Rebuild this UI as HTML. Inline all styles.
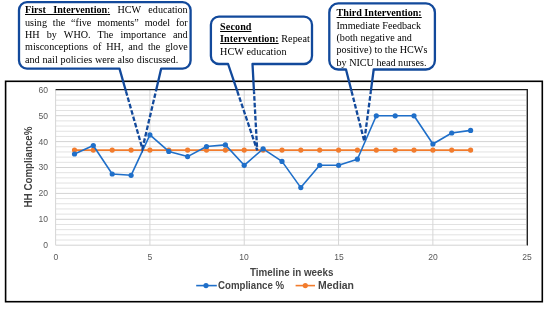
<!DOCTYPE html><html><head><meta charset="utf-8"><title>HH Compliance run chart</title><style>
html,body{margin:0;padding:0;background:#fff}
#wrap{position:relative;width:550px;height:309px;overflow:hidden;background:#fff;font-family:"Liberation Sans",sans-serif}
.t{position:absolute;white-space:nowrap;color:#595959;line-height:1}
.yl{font-size:9.2px;width:20px;text-align:right;left:27.6px;transform-origin:100% 50%;transform:scaleX(0.93)}
.xl{font-size:9.2px;width:30px;text-align:center;transform:scaleX(0.93)}
.b{font-weight:bold;color:#444}
.c{position:absolute;font-family:"Liberation Serif",serif;font-size:10.15px;line-height:12.35px;color:#000}
.c div{white-space:nowrap}
.j{text-align:justify;text-align-last:justify}
.c b,.c u{text-decoration:underline}
</style></head><body><div id="wrap">
<svg width="550" height="309" viewBox="0 0 550 309" style="position:absolute;left:0;top:0">
<rect x="5.6" y="81.3" width="536.7" height="220.4" fill="#fff" stroke="#000" stroke-width="1.6"/>
<line x1="55.6" x2="526.0" y1="240.02" y2="240.02" stroke="#e2e2e2" stroke-width="1"/>
<line x1="55.6" x2="526.0" y1="234.84" y2="234.84" stroke="#e2e2e2" stroke-width="1"/>
<line x1="55.6" x2="526.0" y1="229.66" y2="229.66" stroke="#e2e2e2" stroke-width="1"/>
<line x1="55.6" x2="526.0" y1="224.48" y2="224.48" stroke="#e2e2e2" stroke-width="1"/>
<line x1="55.6" x2="526.0" y1="214.12" y2="214.12" stroke="#e2e2e2" stroke-width="1"/>
<line x1="55.6" x2="526.0" y1="208.94" y2="208.94" stroke="#e2e2e2" stroke-width="1"/>
<line x1="55.6" x2="526.0" y1="203.76" y2="203.76" stroke="#e2e2e2" stroke-width="1"/>
<line x1="55.6" x2="526.0" y1="198.58" y2="198.58" stroke="#e2e2e2" stroke-width="1"/>
<line x1="55.6" x2="526.0" y1="188.22" y2="188.22" stroke="#e2e2e2" stroke-width="1"/>
<line x1="55.6" x2="526.0" y1="183.04" y2="183.04" stroke="#e2e2e2" stroke-width="1"/>
<line x1="55.6" x2="526.0" y1="177.86" y2="177.86" stroke="#e2e2e2" stroke-width="1"/>
<line x1="55.6" x2="526.0" y1="172.68" y2="172.68" stroke="#e2e2e2" stroke-width="1"/>
<line x1="55.6" x2="526.0" y1="162.32" y2="162.32" stroke="#e2e2e2" stroke-width="1"/>
<line x1="55.6" x2="526.0" y1="157.14" y2="157.14" stroke="#e2e2e2" stroke-width="1"/>
<line x1="55.6" x2="526.0" y1="151.96" y2="151.96" stroke="#e2e2e2" stroke-width="1"/>
<line x1="55.6" x2="526.0" y1="146.78" y2="146.78" stroke="#e2e2e2" stroke-width="1"/>
<line x1="55.6" x2="526.0" y1="136.42" y2="136.42" stroke="#e2e2e2" stroke-width="1"/>
<line x1="55.6" x2="526.0" y1="131.24" y2="131.24" stroke="#e2e2e2" stroke-width="1"/>
<line x1="55.6" x2="526.0" y1="126.06" y2="126.06" stroke="#e2e2e2" stroke-width="1"/>
<line x1="55.6" x2="526.0" y1="120.88" y2="120.88" stroke="#e2e2e2" stroke-width="1"/>
<line x1="55.6" x2="526.0" y1="110.52" y2="110.52" stroke="#e2e2e2" stroke-width="1"/>
<line x1="55.6" x2="526.0" y1="105.34" y2="105.34" stroke="#e2e2e2" stroke-width="1"/>
<line x1="55.6" x2="526.0" y1="100.16" y2="100.16" stroke="#e2e2e2" stroke-width="1"/>
<line x1="55.6" x2="526.0" y1="94.98" y2="94.98" stroke="#e2e2e2" stroke-width="1"/>
<line x1="55.6" x2="526.0" y1="245.20" y2="245.20" stroke="#d3d3d3" stroke-width="1"/>
<line x1="55.6" x2="526.0" y1="219.30" y2="219.30" stroke="#d3d3d3" stroke-width="1"/>
<line x1="55.6" x2="526.0" y1="193.40" y2="193.40" stroke="#d3d3d3" stroke-width="1"/>
<line x1="55.6" x2="526.0" y1="167.50" y2="167.50" stroke="#d3d3d3" stroke-width="1"/>
<line x1="55.6" x2="526.0" y1="141.60" y2="141.60" stroke="#d3d3d3" stroke-width="1"/>
<line x1="55.6" x2="526.0" y1="115.70" y2="115.70" stroke="#d3d3d3" stroke-width="1"/>
<line x1="55.60" x2="55.60" y1="89.8" y2="245.2" stroke="#d6d6d6" stroke-width="1"/>
<line x1="149.92" x2="149.92" y1="89.8" y2="245.2" stroke="#d6d6d6" stroke-width="1"/>
<line x1="244.24" x2="244.24" y1="89.8" y2="245.2" stroke="#d6d6d6" stroke-width="1"/>
<line x1="338.56" x2="338.56" y1="89.8" y2="245.2" stroke="#d6d6d6" stroke-width="1"/>
<line x1="432.88" x2="432.88" y1="89.8" y2="245.2" stroke="#d6d6d6" stroke-width="1"/>
<line x1="527.20" x2="527.20" y1="89.8" y2="245.2" stroke="#d6d6d6" stroke-width="1"/>
<path d="M55.6,89.6 H527.3000000000001 V245.6" fill="none" stroke="#1c1c1c" stroke-width="1.3"/>
<line x1="74.5" x2="470.6" y1="150.1" y2="150.1" stroke="#f27c2d" stroke-width="1.6"/>
<circle cx="74.5" cy="150.1" r="2.6" fill="#f27c2d"/>
<circle cx="93.3" cy="150.1" r="2.6" fill="#f27c2d"/>
<circle cx="112.2" cy="150.1" r="2.6" fill="#f27c2d"/>
<circle cx="131.1" cy="150.1" r="2.6" fill="#f27c2d"/>
<circle cx="149.9" cy="150.1" r="2.6" fill="#f27c2d"/>
<circle cx="168.8" cy="150.1" r="2.6" fill="#f27c2d"/>
<circle cx="187.6" cy="150.1" r="2.6" fill="#f27c2d"/>
<circle cx="206.5" cy="150.1" r="2.6" fill="#f27c2d"/>
<circle cx="225.4" cy="150.1" r="2.6" fill="#f27c2d"/>
<circle cx="244.2" cy="150.1" r="2.6" fill="#f27c2d"/>
<circle cx="263.1" cy="150.1" r="2.6" fill="#f27c2d"/>
<circle cx="282.0" cy="150.1" r="2.6" fill="#f27c2d"/>
<circle cx="300.8" cy="150.1" r="2.6" fill="#f27c2d"/>
<circle cx="319.7" cy="150.1" r="2.6" fill="#f27c2d"/>
<circle cx="338.6" cy="150.1" r="2.6" fill="#f27c2d"/>
<circle cx="357.4" cy="150.1" r="2.6" fill="#f27c2d"/>
<circle cx="376.3" cy="150.1" r="2.6" fill="#f27c2d"/>
<circle cx="395.2" cy="150.1" r="2.6" fill="#f27c2d"/>
<circle cx="414.0" cy="150.1" r="2.6" fill="#f27c2d"/>
<circle cx="432.9" cy="150.1" r="2.6" fill="#f27c2d"/>
<circle cx="451.7" cy="150.1" r="2.6" fill="#f27c2d"/>
<circle cx="470.6" cy="150.1" r="2.6" fill="#f27c2d"/>
<polyline points="74.5,154.0 93.3,145.5 112.2,174.0 131.1,175.3 149.9,134.9 168.8,151.4 187.6,156.6 206.5,146.5 225.4,144.9 244.2,165.3 263.1,148.8 282.0,161.4 300.8,187.6 319.7,165.3 338.6,165.3 357.4,159.2 376.3,115.8 395.2,115.8 414.0,115.8 432.9,144.0 451.7,133.0 470.6,130.4" fill="none" stroke="#1f6fc9" stroke-width="1.6" stroke-linejoin="round"/>
<circle cx="74.5" cy="154.0" r="2.6" fill="#1f6fc9"/>
<circle cx="93.3" cy="145.5" r="2.6" fill="#1f6fc9"/>
<circle cx="112.2" cy="174.0" r="2.6" fill="#1f6fc9"/>
<circle cx="131.1" cy="175.3" r="2.6" fill="#1f6fc9"/>
<circle cx="149.9" cy="134.9" r="2.6" fill="#1f6fc9"/>
<circle cx="168.8" cy="151.4" r="2.6" fill="#1f6fc9"/>
<circle cx="187.6" cy="156.6" r="2.6" fill="#1f6fc9"/>
<circle cx="206.5" cy="146.5" r="2.6" fill="#1f6fc9"/>
<circle cx="225.4" cy="144.9" r="2.6" fill="#1f6fc9"/>
<circle cx="244.2" cy="165.3" r="2.6" fill="#1f6fc9"/>
<circle cx="263.1" cy="148.8" r="2.6" fill="#1f6fc9"/>
<circle cx="282.0" cy="161.4" r="2.6" fill="#1f6fc9"/>
<circle cx="300.8" cy="187.6" r="2.6" fill="#1f6fc9"/>
<circle cx="319.7" cy="165.3" r="2.6" fill="#1f6fc9"/>
<circle cx="338.6" cy="165.3" r="2.6" fill="#1f6fc9"/>
<circle cx="357.4" cy="159.2" r="2.6" fill="#1f6fc9"/>
<circle cx="376.3" cy="115.8" r="2.6" fill="#1f6fc9"/>
<circle cx="395.2" cy="115.8" r="2.6" fill="#1f6fc9"/>
<circle cx="414.0" cy="115.8" r="2.6" fill="#1f6fc9"/>
<circle cx="432.9" cy="144.0" r="2.6" fill="#1f6fc9"/>
<circle cx="451.7" cy="133.0" r="2.6" fill="#1f6fc9"/>
<circle cx="470.6" cy="130.4" r="2.6" fill="#1f6fc9"/>
<line x1="196.2" x2="216.8" y1="285.6" y2="285.6" stroke="#1f6fc9" stroke-width="1.6"/><circle cx="206" cy="285.6" r="2.6" fill="#1f6fc9"/>
<line x1="295.6" x2="315" y1="285.6" y2="285.6" stroke="#f27c2d" stroke-width="1.6"/><circle cx="305.3" cy="285.6" r="2.6" fill="#f27c2d"/>
<path d="M125.95,91.2 L119.5,68.6 H27.0 A8,8 0 0 1 19.0,60.599999999999994 V10.1 A8,8 0 0 1 27.0,2.1 H182.6 A8,8 0 0 1 190.6,10.1 V60.599999999999994 A8,8 0 0 1 182.6,68.6 H161.2 L155.90,91.2" fill="none" stroke="#12499b" stroke-width="2.3" stroke-linejoin="round"/>
<path d="M125.95,91.2 L142.4,148.8 L155.90,91.2" fill="none" stroke="#12499b" stroke-width="2.3" stroke-dasharray="4.6 2" stroke-linejoin="miter"/>
<path d="M237.26,91.2 L228.1,64.0 H218.9 A8,8 0 0 1 210.9,56.0 V24.7 A8,8 0 0 1 218.9,16.7 H304.0 A8,8 0 0 1 312.0,24.7 V56.0 A8,8 0 0 1 304.0,64.0 H252.5 L253.98,91.2" fill="none" stroke="#12499b" stroke-width="2.3" stroke-linejoin="round"/>
<path d="M237.26,91.2 L257.2,150.4 L253.98,91.2" fill="none" stroke="#12499b" stroke-width="2.3" stroke-dasharray="4.6 2" stroke-linejoin="miter"/>
<path d="M351.54,91.2 L346.0,69.5 H338.3 A9,9 0 0 1 329.3,60.5 V12.4 A9,9 0 0 1 338.3,3.4 H425.9 A9,9 0 0 1 434.9,12.4 V60.5 A9,9 0 0 1 425.9,69.5 H373.7 L370.86,91.2" fill="none" stroke="#12499b" stroke-width="2.3" stroke-linejoin="round"/>
<path d="M351.54,91.2 L364.3,141.2 L370.86,91.2" fill="none" stroke="#12499b" stroke-width="2.3" stroke-dasharray="4.6 2" stroke-linejoin="miter"/>
</svg>
<div class="t yl" style="top:241.1px">0</div>
<div class="t yl" style="top:215.2px">10</div>
<div class="t yl" style="top:189.3px">20</div>
<div class="t yl" style="top:163.4px">30</div>
<div class="t yl" style="top:137.5px">40</div>
<div class="t yl" style="top:111.6px">50</div>
<div class="t yl" style="top:85.7px">60</div>
<div class="t xl" style="left:40.6px;top:253.1px">0</div>
<div class="t xl" style="left:134.9px;top:253.1px">5</div>
<div class="t xl" style="left:229.2px;top:253.1px">10</div>
<div class="t xl" style="left:323.6px;top:253.1px">15</div>
<div class="t xl" style="left:417.9px;top:253.1px">20</div>
<div class="t xl" style="left:512.2px;top:253.1px">25</div>
<div class="t b" style="left:250px;top:266.80px;font-size:11.2px;transform-origin:0 50%;transform:scaleX(0.879)">Timeline in weeks</div>
<div class="t b" style="left:218px;top:279.90px;font-size:11.2px;transform-origin:0 50%;transform:scaleX(0.865)">Compliance %</div>
<div class="t b" style="left:318px;top:279.90px;font-size:11.2px;transform-origin:0 50%;transform:scaleX(0.933)">Median</div>
<div class="t b" style="left:29px;top:167.3px;font-size:11.2px;color:#404040;transform:translate(-50%,-50%) rotate(-90deg) scaleX(0.873)">HH Compliance%</div>
<div class="c" style="left:25.0px;top:4.4px;width:162.7px"><div class="j"><u><b>First Intervention</b>:</u> HCW education</div><div class="j">using the “five moments” model for</div><div class="j">HH by WHO. The importance and</div><div class="j">misconceptions of HH, and the glove</div><div style="word-spacing:0.38px">and nail policies were also discussed.</div></div>
<div class="c" style="left:220.1px;top:20.5px;width:92px;line-height:12.65px;letter-spacing:0.09px"><div><b>Second</b></div><div><b>Intervention:</b> Repeat</div><div>HCW education</div></div>
<div class="c" style="left:336.5px;top:7.4px;width:98px"><div><b>Third Intervention:</b></div><div>Immediate Feedback</div><div>(both negative and</div><div>positive) to the HCWs</div><div>by NICU head nurses.</div></div>
</div></body></html>
